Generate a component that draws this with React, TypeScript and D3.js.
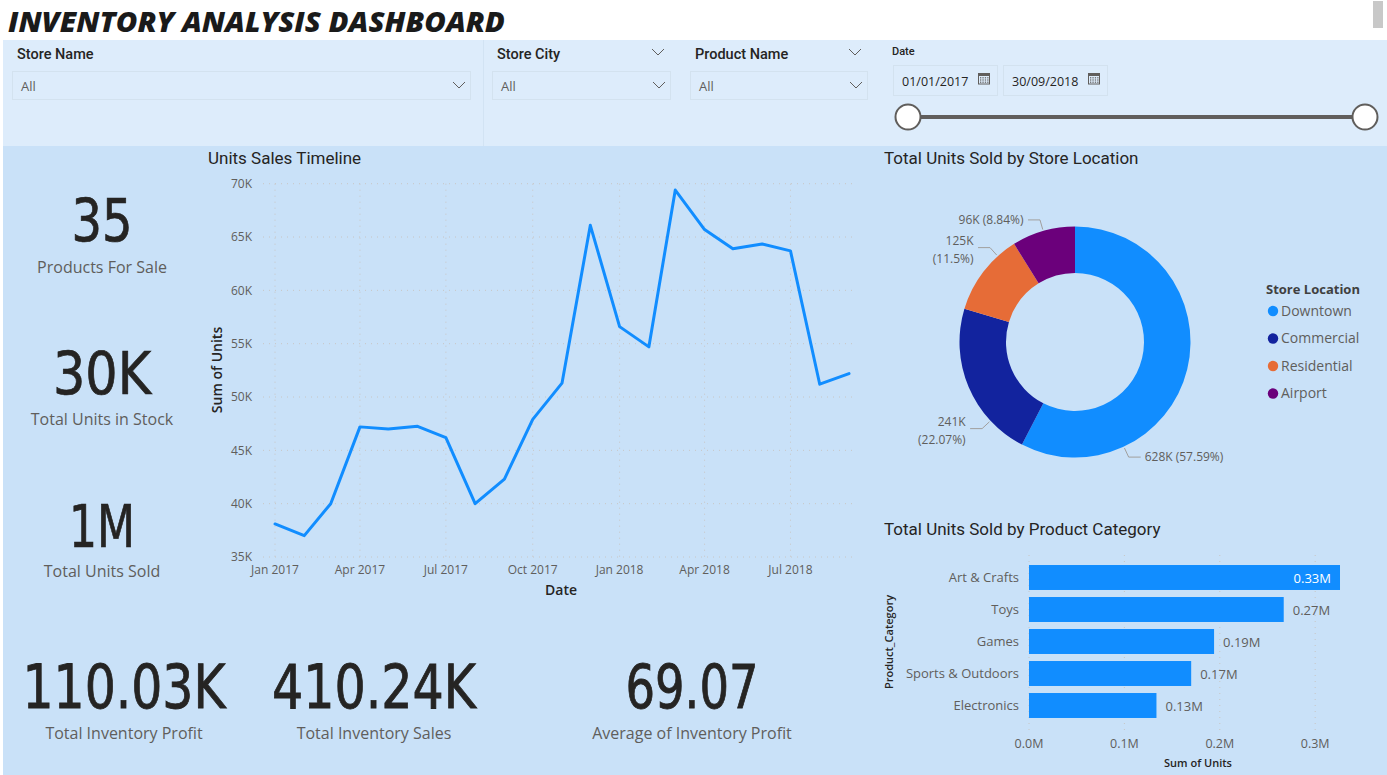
import React from 'react';
import * as d3 from 'd3';

// ---------- DATA ----------
const months: string[] = [
  '2017-01', '2017-02', '2017-03', '2017-04', '2017-05', '2017-06', '2017-07',
  '2017-08', '2017-09', '2017-10', '2017-11', '2017-12', '2018-01', '2018-02',
  '2018-03', '2018-04', '2018-05', '2018-06', '2018-07', '2018-08', '2018-09',
];
const unitsByMonth: number[] = [
  38100, 37000, 40000, 47200, 47000, 47250, 46200, 40000, 42300, 47900, 51300,
  66100, 56600, 54700, 69400, 65700, 63900, 64350, 63700, 51200, 52200,
];
const yTicks: number[] = [35000, 40000, 45000, 50000, 55000, 60000, 65000, 70000];

const storeLocations: string[] = ['Downtown', 'Commercial', 'Residential', 'Airport'];
const storeUnits: number[] = [628080, 240700, 125420, 96410];
const storeColors: string[] = ['#118DFF', '#12239E', '#E66C37', '#6B007B'];

const categories: string[] = ['Art & Crafts', 'Toys', 'Games', 'Sports & Outdoors', 'Electronics'];
const categoryUnits: number[] = [326000, 267000, 194000, 170000, 133600];
const barTicks: number[] = [0, 100000, 200000, 300000];

const kpiSideValues: string[] = ['35', '30K', '1M'];
const kpiSideLabels: string[] = ['Products For Sale', 'Total Units in Stock', 'Total Units Sold'];
const kpiBottomValues: string[] = ['110.03K', '410.24K', '69.07'];
const kpiBottomLabels: string[] = ['Total Inventory Profit', 'Total Inventory Sales', 'Average of Inventory Profit'];

const filterLabels: string[] = ['Store Name', 'Store City', 'Product Name'];
const dateRange: string[] = ['01/01/2017', '30/09/2018'];

// ---------- STYLE ----------
const W = 1387;
const H = 775;
const LABEL_FONT = "'Segoe UI', 'Open Sans', sans-serif";
const TITLE_FONT = "'DIN', Roboto, sans-serif";
const KPI_FONT = "'DIN', 'Liberation Sans Narrow', 'DejaVu Sans Condensed', Roboto, sans-serif";
const GRAY = '#605e5c';
const DARK = '#252423';
const MAIN_BG = '#c9e1f8';
const FILTER_BG = '#ddecfb';

const Chevron = ({ x, y }: { x: number; y: number }) => (
  <path d={`M${x - 6},${y - 3} L${x},${y + 3} L${x + 6},${y - 3}`} fill="none" stroke={GRAY} strokeWidth={1} />
);

const CalIcon = ({ x, y }: { x: number; y: number }) => {
  const cells = [];
  for (let r = 0; r < 3; r++)
    for (let c = 0; c < 4; c++)
      cells.push(<rect key={`${r}-${c}`} x={x + 2 + c * 2.4} y={y + 4.2 + r * 2.2} width={1.3} height={1.2} fill={GRAY} />);
  return (
    <g>
      <rect x={x + 0.5} y={y + 0.5} width={11} height={10.5} fill="none" stroke={GRAY} strokeWidth={1} />
      <rect x={x + 0.5} y={y + 0.5} width={11} height={2.5} fill={GRAY} />
      {cells}
    </g>
  );
};

function Filters() {
  const boxes = [
    { lx: 17, bx: 12, bw: 458, chevTop: false },
    { lx: 497, bx: 492, bw: 178, chevTop: true },
    { lx: 695, bx: 690, bw: 177, chevTop: true },
  ];
  return (
    <g>
      <rect x={3} y={40} width={W - 3} height={106} fill={FILTER_BG} />
      <line x1={483.5} y1={40} x2={483.5} y2={146} stroke="#d2e3f3" strokeWidth={1} />
      {boxes.map((b, i) => (
        <g key={i}>
          <text x={b.lx} y={59} fontFamily={TITLE_FONT} fontWeight={500} fontSize={14.5} fill={DARK}>
            {filterLabels[i]}
          </text>
          {b.chevTop && <Chevron x={b.bx + b.bw - 12} y={52} />}
          <rect x={b.bx + 0.5} y={71.5} width={b.bw} height={28} fill="none" stroke="#d3e2ef" strokeWidth={1} />
          <text x={b.bx + 9} y={91} fontFamily={LABEL_FONT} fontSize={13} fill={GRAY}>All</text>
          <Chevron x={b.bx + b.bw - 11} y={85} />
        </g>
      ))}
      <text x={892} y={55} fontFamily={TITLE_FONT} fontWeight={500} fontSize={11} fill={DARK}>Date</text>
      {dateRange.map((d, i) => {
        const bx = 893 + i * 110;
        return (
          <g key={d}>
            <rect x={bx + 0.5} y={65.5} width={104} height={30} fill="none" stroke="#d3e2ef" strokeWidth={1} />
            <text x={bx + 9} y={86} fontFamily={LABEL_FONT} fontSize={12.5} fill={DARK}>{d}</text>
            <CalIcon x={bx + 85} y={73} />
          </g>
        );
      })}
      <line x1={908} y1={117} x2={1365} y2={117} stroke={GRAY} strokeWidth={4} />
      <circle cx={908} cy={117} r={12.5} fill="#ffffff" stroke={GRAY} strokeWidth={2} />
      <circle cx={1365} cy={117} r={12.5} fill="#ffffff" stroke={GRAY} strokeWidth={2} />
    </g>
  );
}

function SideKpis() {
  const cx = 102;
  const vBase = [241, 394, 547];
  const lBase = [273, 425, 577];
  const lens = [61, 98, 66];
  return (
    <g>
      {kpiSideValues.map((v, i) => (
        <g key={v}>
          <text x={cx} y={vBase[i]} textAnchor="middle" fontFamily={KPI_FONT} fontSize={58} fill={DARK}
            stroke={DARK} strokeWidth={0.7} textLength={lens[i]} lengthAdjust="spacingAndGlyphs">{v}</text>
          <text x={cx} y={lBase[i]} textAnchor="middle" fontFamily={LABEL_FONT} fontSize={16} fill={GRAY}>
            {kpiSideLabels[i]}
          </text>
        </g>
      ))}
    </g>
  );
}

function BottomKpis() {
  const cxs = [124, 374, 692];
  const lens = [203, 204, 133];
  return (
    <g>
      {kpiBottomValues.map((v, i) => (
        <g key={v}>
          <text x={cxs[i]} y={708} textAnchor="middle" fontFamily={KPI_FONT} fontSize={61} fill={DARK}
            stroke={DARK} strokeWidth={0.8} textLength={lens[i]} lengthAdjust="spacingAndGlyphs">{v}</text>
          <text x={cxs[i]} y={739} textAnchor="middle" fontFamily={LABEL_FONT} fontSize={16} fill={GRAY}>
            {kpiBottomLabels[i]}
          </text>
        </g>
      ))}
    </g>
  );
}

function LineChart() {
  const parse = d3.timeParse('%Y-%m');
  const data = months.map((m, i) => ({ date: parse(m) as Date, v: unitsByMonth[i] }));
  const x = d3.scaleTime().domain([data[0].date, data[data.length - 1].date]).range([275, 849]);
  const y = d3.scaleLinear().domain([35000, 70000]).range([557, 183.7]);
  const xTicks = d3.timeMonth.every(3)!.range(data[0].date, d3.timeMonth.offset(data[data.length - 1].date, 1));
  const fmtX = d3.timeFormat('%b %Y');
  const line = d3.line<{ date: Date; v: number }>().x(d => x(d.date)).y(d => y(d.v));
  return (
    <g>
      <text x={208} y={164} fontFamily={TITLE_FONT} fontWeight={400} fontSize={17} fill={DARK}>Units Sales Timeline</text>
      {yTicks.map(t => (
        <g key={t}>
          <line x1={263} x2={856} y1={y(t)} y2={y(t)} stroke="#c8c6c4" strokeWidth={1} strokeDasharray="1 5" />
          <text x={252} y={y(t)} dy="0.35em" textAnchor="end" fontFamily={LABEL_FONT} fontSize={12} fill={GRAY}>
            {`${t / 1000}K`}
          </text>
        </g>
      ))}
      {xTicks.map(t => (
        <g key={+t}>
          <line x1={x(t)} x2={x(t)} y1={183.7} y2={557} stroke="#c8c6c4" strokeWidth={1} strokeDasharray="1 5" />
          <text x={x(t)} y={574} textAnchor="middle" fontFamily={LABEL_FONT} fontSize={12} fill={GRAY}>{fmtX(t)}</text>
        </g>
      ))}
      <path d={line(data) || ''} fill="none" stroke="#118DFF" strokeWidth={3} strokeLinejoin="round" strokeLinecap="round" />
      <text x={561} y={595} textAnchor="middle" fontFamily={LABEL_FONT} fontWeight={600} fontSize={14} fill={DARK}>Date</text>
      <text transform="translate(222,370) rotate(-90)" textAnchor="middle" fontFamily={LABEL_FONT} fontWeight={600}
        fontSize={14} fill={DARK}>Sum of Units</text>
    </g>
  );
}

function Donut() {
  const cx = 1075;
  const cy = 342;
  const pie = d3.pie<number>().sort(null).value(d => d);
  const arcs = pie(storeUnits);
  const arc = d3.arc<d3.PieArcDatum<number>>().innerRadius(69).outerRadius(115.5);
  const total = d3.sum(storeUnits);
  const fmtPct = d3.format('.4~p');
  const labelAngleDeg = [155, 227, 318, 344];
  const twoLine = [false, true, true, false];
  return (
    <g>
      <text x={884} y={164} fontFamily={TITLE_FONT} fontWeight={400} fontSize={17} fill={DARK}>
        Total Units Sold by Store Location
      </text>
      <g transform={`translate(${cx},${cy})`}>
        {arcs.map((a, i) => (
          <path key={i} d={arc(a) || ''} fill={storeColors[i]} />
        ))}
        {arcs.map((a, i) => {
          const ang = (labelAngleDeg[i] * Math.PI) / 180;
          const p1 = [117 * Math.sin(ang), -117 * Math.cos(ang)];
          const p2 = [127 * Math.sin(ang), -127 * Math.cos(ang)];
          const right = Math.sin(ang) > 0;
          const p3 = [p2[0] + (right ? 12 : -12), p2[1]];
          const tx = p3[0] + (right ? 4 : -4.5);
          const valTxt = `${Math.round(storeUnits[i] / 1000)}K`;
          const pctTxt = `(${fmtPct(storeUnits[i] / total)})`;
          return (
            <g key={`l${i}`}>
              <polyline points={`${p1} ${p2} ${p3}`} fill="none" stroke="#a19f9d" strokeWidth={1} />
              {twoLine[i] ? (
                <text x={tx} y={p3[1]} textAnchor={right ? 'start' : 'end'} fontFamily={LABEL_FONT} fontSize={12} fill={GRAY}>
                  <tspan x={tx} dy="-0.2em">{valTxt}</tspan>
                  <tspan x={tx} dy="1.45em">{pctTxt}</tspan>
                </text>
              ) : (
                <text x={tx} y={p3[1]} dy="0.36em" textAnchor={right ? 'start' : 'end'} fontFamily={LABEL_FONT} fontSize={12} fill={GRAY}>
                  {`${valTxt} ${pctTxt}`}
                </text>
              )}
            </g>
          );
        })}
      </g>
      <text x={1266} y={294} fontFamily={LABEL_FONT} fontWeight={700} fontSize={13} fill="#404040">Store Location</text>
      {storeLocations.map((s, i) => (
        <g key={s}>
          <circle cx={1273} cy={311 + i * 27.5} r={5.2} fill={storeColors[i]} />
          <text x={1281} y={311 + i * 27.5} dy="0.35em" fontFamily={LABEL_FONT} fontSize={14} fill={GRAY}>{s}</text>
        </g>
      ))}
    </g>
  );
}

function BarChart() {
  const x = d3.scaleLinear().domain([0, 300000]).range([1029, 1315.2]);
  const y = d3.scaleBand<string>().domain(categories).range([561.5, 721.5]).paddingInner(0.22).paddingOuter(0.11);
  const fmt = (v: number) => `${d3.format('.2f')(v / 1e6)}M`;
  const fmtTick = (v: number) => `${d3.format('.1f')(v / 1e6)}M`;
  return (
    <g>
      <text x={884} y={535} fontFamily={TITLE_FONT} fontWeight={400} fontSize={17} fill={DARK}>
        Total Units Sold by Product Category
      </text>
      {barTicks.map(t => (
        <g key={t}>
          <line x1={x(t)} x2={x(t)} y1={555} y2={731} stroke="#c8c6c4" strokeWidth={1} strokeDasharray="1 5" />
          <text x={x(t)} y={748} textAnchor="middle" fontFamily={LABEL_FONT} fontSize={12.5} fill={GRAY}>{fmtTick(t)}</text>
        </g>
      ))}
      {categories.map((c, i) => {
        const v = categoryUnits[i];
        const yy = y(c) as number;
        const bw = x(v) - x(0);
        const inside = bw > 280;
        return (
          <g key={c}>
            <rect x={x(0)} y={yy} width={bw} height={y.bandwidth()} fill="#118DFF" />
            <text x={1019} y={yy + y.bandwidth() / 2} dy="0.35em" textAnchor="end" fontFamily={LABEL_FONT} fontSize={13} fill={GRAY}>{c}</text>
            <text x={inside ? x(v) - 9 : x(v) + 9} y={yy + y.bandwidth() / 2} dy="0.4em" textAnchor={inside ? 'end' : 'start'}
              fontFamily={LABEL_FONT} fontSize={13} fill={inside ? '#ffffff' : GRAY}>{fmt(v)}</text>
          </g>
        );
      })}
      <text x={1198} y={767} textAnchor="middle" fontFamily={LABEL_FONT} fontWeight={600} fontSize={11} fill={DARK}>Sum of Units</text>
      <text transform="translate(893,642) rotate(-90)" textAnchor="middle" fontFamily={LABEL_FONT} fontWeight={600}
        fontSize={11} fill={DARK}>Product_Category</text>
    </g>
  );
}

export default function App() {
  return (
    <svg width={W} height={H} viewBox={`0 0 ${W} ${H}`}
      style={{ position: 'absolute', left: 0, top: 0, display: 'block', background: '#ffffff' }}>
      <rect x={0} y={0} width={W} height={H} fill="#ffffff" />
      <text x={8} y={32} fontFamily="'Segoe UI', 'Open Sans', sans-serif" fontWeight={800} fontStyle="italic" fontSize={28}
        fill="#1a1a1a" textLength={497} lengthAdjust="spacingAndGlyphs">INVENTORY ANALYSIS DASHBOARD</text>
      <rect x={1373} y={1} width={10} height={27} fill="#c8c8c8" />
      <Filters />
      <rect x={3} y={146} width={W - 3} height={H - 146} fill={MAIN_BG} />
      <SideKpis />
      <BottomKpis />
      <LineChart />
      <Donut />
      <BarChart />
    </svg>
  );
}
